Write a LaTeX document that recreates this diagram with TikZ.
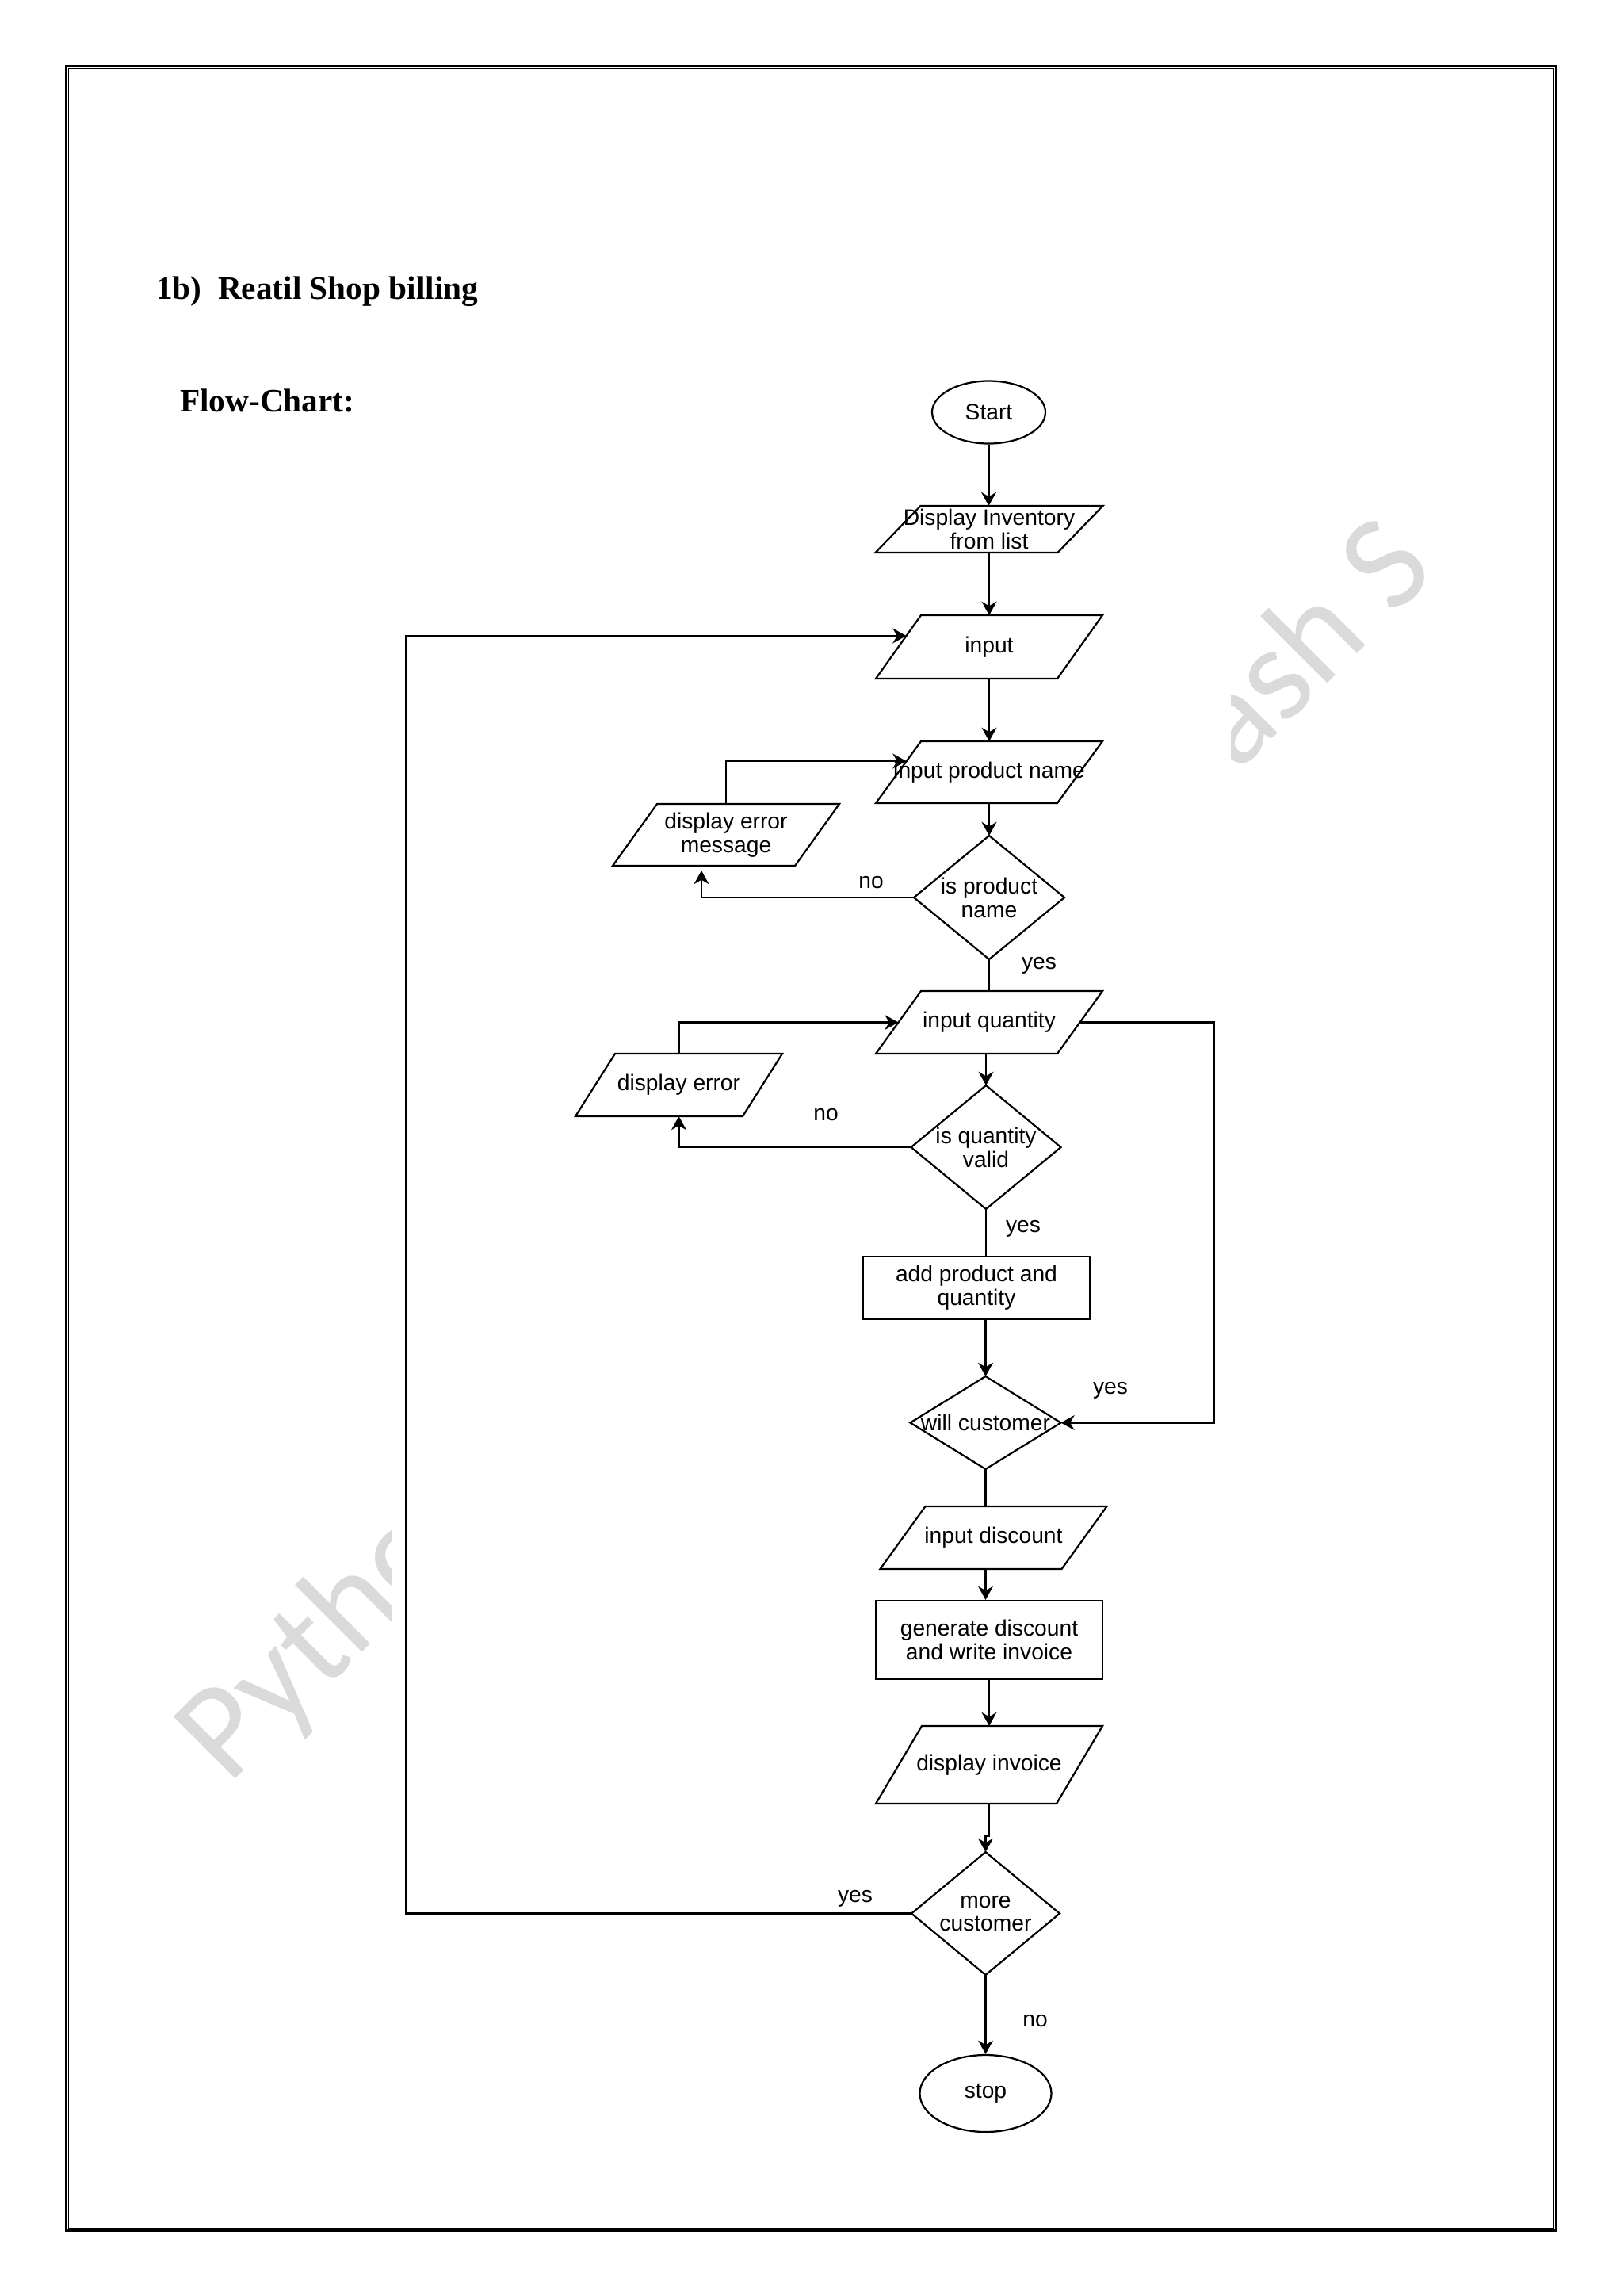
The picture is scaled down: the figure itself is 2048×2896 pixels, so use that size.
\documentclass[tikz,border=0pt]{standalone}
\usepackage{fontspec}
\setmainfont{Liberation Serif}
\newfontfamily\arialf{Liberation Sans}
\newfontfamily\wmfont{Carlito}
\usetikzlibrary{shapes.geometric,arrows.meta,calc}
\definecolor{wmgray}{RGB}{218,218,218}
\newcommand\pxu{0.29065pt}
\newcommand\iobox[6]{%
  \node[iobx, minimum width=#3*\pxu, minimum height=#4*\pxu, label={[txt]center:{#6}}] (#1) at (#2) {};
  \draw ($(#1.north west)+(#5/2,0)$) -- ($(#1.north east)+(#5/2,0)$) -- ($(#1.south east)-(#5/2,0)$) -- ($(#1.south west)-(#5/2,0)$) -- cycle;
}
\begin{document}
\begin{tikzpicture}[x=0.29065pt,y=-0.29065pt,
  line width=0.65pt,
  arr/.style={-{Stealth[length=5pt,width=5.5pt,inset=1.6pt]}},
  txt/.style={font=\arialf\fontsize{8.2}{8.7}\selectfont, align=center, inner sep=0pt},
  lbl/.style={font=\arialf\fontsize{8.2}{9}\selectfont, inner sep=0pt},
  iobx/.style={rectangle, draw=none, inner sep=0pt, outer sep=0pt},
  term/.style={txt, ellipse, draw},
  proc/.style={txt, rectangle, draw},
  dec/.style={diamond, draw, inner sep=0pt, outer sep=0pt},
  wm/.style={font=\wmfont\fontsize{50}{60}\selectfont, text=wmgray, inner sep=0pt},
  ttl/.style={anchor=west, inner sep=0pt, font=\bfseries\fontsize{12}{14}\selectfont}
]
\useasboundingbox (0,0) rectangle (2048,2896);
% page border
\draw[line width=0.75pt] (83.5,83.5) rectangle (1963.5,2813.5);
\draw[line width=0.3pt] (86.5,86.5) rectangle (1960.5,2810.5);
% watermark fragments
\node[wm, anchor=base west, rotate=45] (wm1) at (288,2253) {Pytho};
\node[wm, anchor=base east, rotate=45] (wm2) at (1815,722) {ash S};
\fill[white] (495,460) rectangle (1553,2720);
% headings
\node[ttl] (title) at (196,368) {1b)\hspace{6pt}Reatil Shop billing};
\node[ttl] (fc) at (226,505) {Flow-Chart:};
% nodes
\node[term, minimum width=143*\pxu, minimum height=79*\pxu] (start) at (1247.5,520) {Start};
\iobox{disp}{1248,667.5}{230}{59}{57}{Display Inventory\\from list}
\iobox{inp}{1248,816}{229}{80}{57}{input}
\iobox{pname}{1248,974}{229}{78}{57}{input product name}
\iobox{err1}{916,1053}{230}{78}{56}{display error\\message}
\node[dec, minimum width=190*\pxu, minimum height=156*\pxu, label={[txt]center:{is product\\name}}] (dec1) at (1248,1132) {};
\iobox{qty}{1248,1289.5}{229}{79}{57}{input quantity}
\iobox{err2}{856.5,1368.5}{211}{79}{50}{display error}
\node[dec, minimum width=189*\pxu, minimum height=156*\pxu, label={[txt]center:{is quantity\\valid}}] (dec2) at (1244,1447) {};
\node[proc, minimum width=286*\pxu, minimum height=79*\pxu] (add) at (1232,1624.5) {add product and\\quantity};
\node[dec, minimum width=190*\pxu, minimum height=117*\pxu, label={[txt]center:{will customer}}] (dec3) at (1243.5,1794.5) {};
\iobox{disc}{1253.5,1939.5}{229}{79}{57}{input discount}
\node[proc, minimum width=286*\pxu, minimum height=99*\pxu] (gen) at (1248,2068.5) {generate discount\\and write invoice};
\iobox{dinv}{1248,2226}{228}{98}{58}{display invoice}
\node[dec, minimum width=187*\pxu, minimum height=155*\pxu, label={[txt]center:{more\\customer}}] (dec4) at (1243.5,2413.5) {};
\node[term, minimum width=166*\pxu, minimum height=97*\pxu] (stop) at (1243.5,2640.5) {stop};
% helper coordinates
\coordinate (loopx) at (512,0);
\coordinate (rightx) at (1532,0);
% connectors
\draw[arr] (start) -- (start |- disp.north);
\draw[arr] (disp.south) -- (inp.north);
\draw[arr] (inp.south) -- (pname.north);
\draw[arr] (pname.south) -- (dec1.north);
\draw[arr] (dec1.west) -| ($(err1.south)+(-31,6)$);
\draw[arr] (err1.north) |- ($(pname.west)+(10,-14)$);
\draw (dec1.south) -- (qty.north);
\draw[arr] (qty.south -| dec2.north) -- (dec2.north);
\draw[arr] (dec2.west) -| (err2.south);
\draw[arr] (err2.north) |- (qty.west);
\draw[arr] (qty.east) -- (qty.east -| rightx) |- (dec3.east);
\draw (dec2.south) -- (dec2.south |- add.north);
\draw[arr] (add.south -| dec3.north) -- (dec3.north);
\draw (dec3.south) -- (dec3.south |- disc.north);
\draw[arr] (disc.south -| dec3.south) -- (gen.north -| dec3.south);
\draw[arr] (gen.south) -- (dinv.north);
\draw[arr] (dinv.south) -- ++(0,41) -| (dec4.north);
\draw[arr] (dec4.west) -- (dec4.west -| loopx) |- ($(inp.west)+(10,-14)$);
\draw[arr] (dec4.south) -- (stop.north);
% connector labels
\node[lbl] (l1) at (1099,1113) {no};
\node[lbl] (l2) at (1311,1218) {yes};
\node[lbl] (l3) at (1042,1406) {no};
\node[lbl] (l4) at (1291,1550) {yes};
\node[lbl] (l5) at (1401,1754) {yes};
\node[lbl] (l6) at (1079,2395) {yes};
\node[lbl] (l7) at (1306,2549) {no};
\end{tikzpicture}
\end{document}
